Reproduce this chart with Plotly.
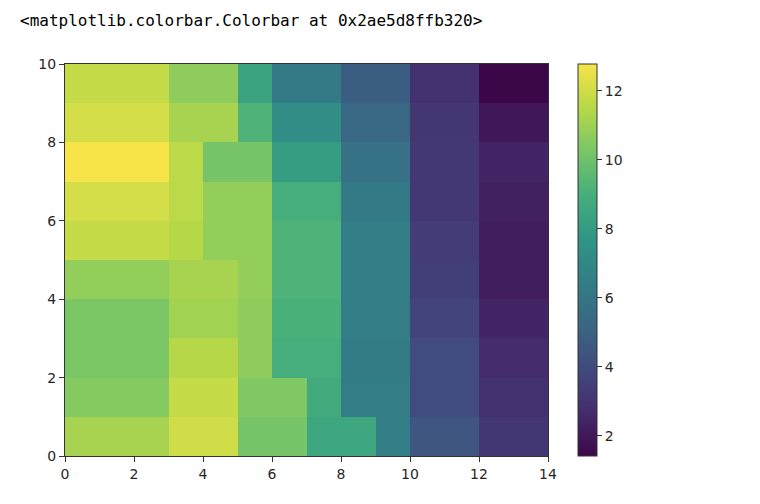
import plotly.graph_objects as go
import plotly.express as px

# cell edges of the mesh
x_edges = [0, 3, 4, 5, 6, 7, 8, 9, 10, 11, 12, 13, 14]
y_edges = [0, 1, 2, 3, 4, 5, 6, 7, 8, 9, 10]

# one row per y band, bottom to top
row_0 = [11.2, 12.0, 12.0, 10.2, 10.2, 8.6, 8.6, 6.5, 4.5, 4.5, 3.1, 3.1]
row_1 = [10.5, 11.8, 11.8, 10.4, 10.4, 8.8, 6.5, 6.5, 4.0, 4.0, 2.9, 2.9]
row_2 = [10.3, 11.5, 11.5, 10.7, 9.0, 9.0, 6.4, 6.4, 4.0, 4.0, 2.7, 2.7]
row_3 = [10.3, 11.1, 11.1, 10.7, 9.1, 9.1, 6.5, 6.5, 3.7, 3.7, 2.4, 2.4]
row_4 = [10.8, 11.2, 11.2, 10.8, 9.2, 9.2, 6.5, 6.5, 3.5, 3.5, 2.2, 2.2]
row_5 = [11.8, 11.5, 10.8, 10.8, 9.2, 9.2, 6.5, 6.5, 3.35, 3.35, 2.2, 2.2]
row_6 = [12.1, 11.6, 10.8, 10.8, 9.0, 9.0, 6.3, 6.3, 3.2, 3.2, 2.3, 2.3]
row_7 = [12.78, 11.6, 10.2, 10.2, 8.1, 8.1, 5.8, 5.8, 3.2, 3.2, 2.4, 2.45]
row_8 = [12.1, 11.2, 11.2, 9.2, 7.3, 7.3, 5.3, 5.3, 3.1, 3.1, 2.0, 2.0]
row_9 = [11.8, 10.7, 10.7, 8.4, 6.3, 6.3, 4.8, 4.8, 2.9, 2.9, 1.42, 1.42]
z = [row_0, row_1, row_2, row_3, row_4, row_5, row_6, row_7, row_8, row_9]

x_ticks = [0, 2, 4, 6, 8, 10, 12, 14]
y_ticks = [0, 2, 4, 6, 8, 10]
cbar_ticks = [2, 4, 6, 8, 10, 12]


def soften(hex_color, amount=0.2):
    # the reference render looks a bit washed out, pull viridis toward grey
    r, g, b = (int(hex_color[i:i + 2], 16) for i in (1, 3, 5))
    lum = 0.3 * r + 0.59 * g + 0.11 * b
    r, g, b = (round(c * (1 - amount) + lum * amount) for c in (r, g, b))
    return f"rgb({r},{g},{b})"


viridis = px.colors.sequential.Viridis
colorscale = [[i / (len(viridis) - 1), soften(c)] for i, c in enumerate(viridis)]

tick_font = dict(family="DejaVu Sans", size=14, color="#262626")

fig = go.Figure(
    data=[go.Heatmap(
        x=x_edges, y=y_edges, z=z,
        colorscale=colorscale, zmin=1.42, zmax=12.78,
        colorbar=dict(
            x=1.062, xanchor="left", xpad=0,
            y=0.5, yanchor="middle", len=1, lenmode="fraction",
            thickness=19, thicknessmode="pixels",
            outlinewidth=1, outlinecolor="#333",
            tickvals=cbar_ticks, ticks="outside", ticklen=5,
            tickcolor="#333", tickfont=tick_font, ypad=0,
        ),
    )],
    layout=go.Layout(
        width=760, height=504,
        margin=dict(l=65, r=212, t=64, b=48),
        paper_bgcolor="white", plot_bgcolor="white",
        xaxis=dict(
            range=[0, 14], tickvals=x_ticks, ticks="outside", ticklen=5,
            tickcolor="#333", showline=True, linecolor="#333", linewidth=1,
            mirror=True, showgrid=False, zeroline=False, tickfont=tick_font,
        ),
        yaxis=dict(
            range=[0, 10], tickvals=y_ticks, ticks="outside", ticklen=5,
            tickcolor="#333", showline=True, linecolor="#333", linewidth=1,
            mirror=True, showgrid=False, zeroline=False, tickfont=tick_font,
        ),
        annotations=[dict(
            text="&lt;matplotlib.colorbar.Colorbar at 0x2ae5d8ffb320&gt;",
            xref="paper", yref="paper", x=-0.0973, y=1.112,
            xanchor="left", yanchor="middle", showarrow=False,
            font=dict(family="DejaVu Sans Mono", size=16, color="#000"),
        )],
    ),
)

fig.write_html("out.html", config={"displayModeBar": False},
               post_script="document.body.style.margin='0px';")
